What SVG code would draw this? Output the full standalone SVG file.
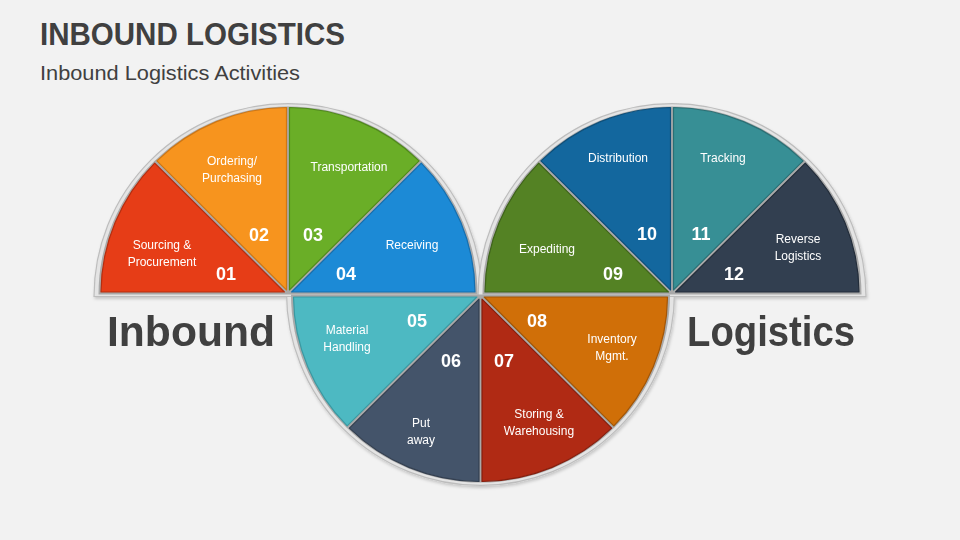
<svg xmlns="http://www.w3.org/2000/svg" width="960" height="540" viewBox="0 0 960 540">
  <defs>
    <filter id="sh" x="-10%" y="-10%" width="120%" height="130%">
      <feDropShadow dx="1" dy="2" stdDeviation="1.5" flood-color="#000" flood-opacity="0.18"/>
    </filter>
    <path id="rimTop" d="M -194 3 A 194 193 0 0 1 194 3 Z"/>
    <path id="gapTop" d="M -189.5 1 A 189.5 188 0 0 1 189.5 1 Z"/>
    <path id="wA" d="M -3.62 -1.5 L -187 -1.5 A 187 186 0 0 1 -133.3 -130.4 Z"/>
    <path id="wB" d="M -1.5 -3.62 L -131.1 -132.6 A 187 186 0 0 1 -1.5 -186 Z"/>
    <path id="wC" d="M 1.5 -3.62 L 1.5 -186 A 187 186 0 0 1 131.1 -132.6 Z"/>
    <path id="wD" d="M 3.62 -1.5 L 133.3 -130.4 A 187 186 0 0 1 187 -1.5 Z"/>
  </defs>
  <style>
    .rim { fill: #e4e4e4; stroke: #bdbdbd; stroke-width: 1.2; }
    .gap { fill: #a9a9a9; }
    .w { stroke-width: 1.2; stroke-linejoin: round; }
    .lbl { font-family: "Liberation Sans", Arial, sans-serif; font-size: 12px; fill: #ffffff; text-anchor: middle; }
    .num { font-family: "Liberation Sans", Arial, sans-serif; font-size: 18px; font-weight: bold; fill: #ffffff; text-anchor: middle; }
    .big { font-family: "Liberation Sans", Arial, sans-serif; font-size: 42px; font-weight: bold; fill: #404040; }
  </style>
  <rect width="960" height="540" fill="#f2f2f2"/>

  <g id="title">
    <text x="40" y="45" font-family="'Liberation Sans', Arial, sans-serif" font-size="31" font-weight="bold" fill="#404040" textLength="305" lengthAdjust="spacingAndGlyphs">INBOUND LOGISTICS</text>
    <text x="40" y="80" font-family="'Liberation Sans', Arial, sans-serif" font-size="20" fill="#404040" textLength="260" lengthAdjust="spacingAndGlyphs">Inbound Logistics Activities</text>
  </g>

  <!-- rims -->
  <g id="rims" filter="url(#sh)">
    <use href="#rimTop" class="rim" transform="translate(480.5,295.5) scale(1,-1)"/>
    <use href="#rimTop" class="rim" transform="translate(288,293.5)"/>
    <use href="#rimTop" class="rim" transform="translate(672,293.5)"/>
  </g>
  <g id="gaps">
    <use href="#gapTop" class="gap" transform="translate(480.5,295.5) scale(1,-1)"/>
    <use href="#gapTop" class="gap" transform="translate(288,293.5)"/>
    <use href="#gapTop" class="gap" transform="translate(672,293.5)"/>
  </g>

  <g id="connectors"/>

  <g id="node-01">
    <use href="#wA" class="w" fill="#E63D17" stroke="#B52E0F" transform="translate(288,293.5)"/>
    <text class="lbl" x="162" y="249">Sourcing &amp;</text>
    <text class="lbl" x="162" y="266">Procurement</text>
    <text class="num" x="226" y="280">01</text>
  </g>
  <g id="node-02">
    <use href="#wB" class="w" fill="#F7941E" stroke="#CF7612" transform="translate(288,293.5)"/>
    <text class="lbl" x="232" y="165">Ordering/</text>
    <text class="lbl" x="232" y="182">Purchasing</text>
    <text class="num" x="259" y="241">02</text>
  </g>
  <g id="node-03">
    <use href="#wC" class="w" fill="#6AAE27" stroke="#4F8A19" transform="translate(288,293.5)"/>
    <text class="lbl" x="349" y="171">Transportation</text>
    <text class="num" x="313" y="241">03</text>
  </g>
  <g id="node-04">
    <use href="#wD" class="w" fill="#1C8AD6" stroke="#156EAE" transform="translate(288,293.5)"/>
    <text class="lbl" x="412" y="249">Receiving</text>
    <text class="num" x="346" y="280">04</text>
  </g>

  <g id="node-05">
    <use href="#wA" class="w" fill="#4DB9C2" stroke="#3A99A2" transform="translate(480.5,295.5) scale(1,-1)"/>
    <text class="lbl" x="347" y="334">Material</text>
    <text class="lbl" x="347" y="351">Handling</text>
    <text class="num" x="417" y="327">05</text>
  </g>
  <g id="node-06">
    <use href="#wB" class="w" fill="#44546A" stroke="#333F50" transform="translate(480.5,295.5) scale(1,-1)"/>
    <text class="num" x="451" y="367">06</text>
    <text class="lbl" x="421" y="427">Put</text>
    <text class="lbl" x="421" y="444">away</text>
  </g>
  <g id="node-07">
    <use href="#wC" class="w" fill="#B02A14" stroke="#861E0D" transform="translate(480.5,295.5) scale(1,-1)"/>
    <text class="num" x="504" y="367">07</text>
    <text class="lbl" x="539" y="418">Storing &amp;</text>
    <text class="lbl" x="539" y="435">Warehousing</text>
  </g>
  <g id="node-08">
    <use href="#wD" class="w" fill="#D06F08" stroke="#A35606" transform="translate(480.5,295.5) scale(1,-1)"/>
    <text class="num" x="537" y="327">08</text>
    <text class="lbl" x="612" y="343">Inventory</text>
    <text class="lbl" x="612" y="360">Mgmt.</text>
  </g>

  <g id="node-09">
    <use href="#wA" class="w" fill="#548224" stroke="#3E631A" transform="translate(672,293.5)"/>
    <text class="lbl" x="547" y="253">Expediting</text>
    <text class="num" x="613" y="280">09</text>
  </g>
  <g id="node-10">
    <use href="#wB" class="w" fill="#13679E" stroke="#0D4F7A" transform="translate(672,293.5)"/>
    <text class="lbl" x="618" y="162">Distribution</text>
    <text class="num" x="647" y="240">10</text>
  </g>
  <g id="node-11">
    <use href="#wC" class="w" fill="#378F95" stroke="#296F74" transform="translate(672,293.5)"/>
    <text class="lbl" x="723" y="162">Tracking</text>
    <text class="num" x="701" y="240">11</text>
  </g>
  <g id="node-12">
    <use href="#wD" class="w" fill="#323F50" stroke="#232D3A" transform="translate(672,293.5)"/>
    <text class="lbl" x="798" y="243">Reverse</text>
    <text class="lbl" x="798" y="260">Logistics</text>
    <text class="num" x="734" y="280">12</text>
  </g>

  <g id="word-inbound">
    <text class="big" x="107" y="346" textLength="168" lengthAdjust="spacingAndGlyphs">Inbound</text>
  </g>
  <g id="word-logistics">
    <text class="big" x="687" y="346" textLength="168" lengthAdjust="spacingAndGlyphs">Logistics</text>
  </g>
</svg>
